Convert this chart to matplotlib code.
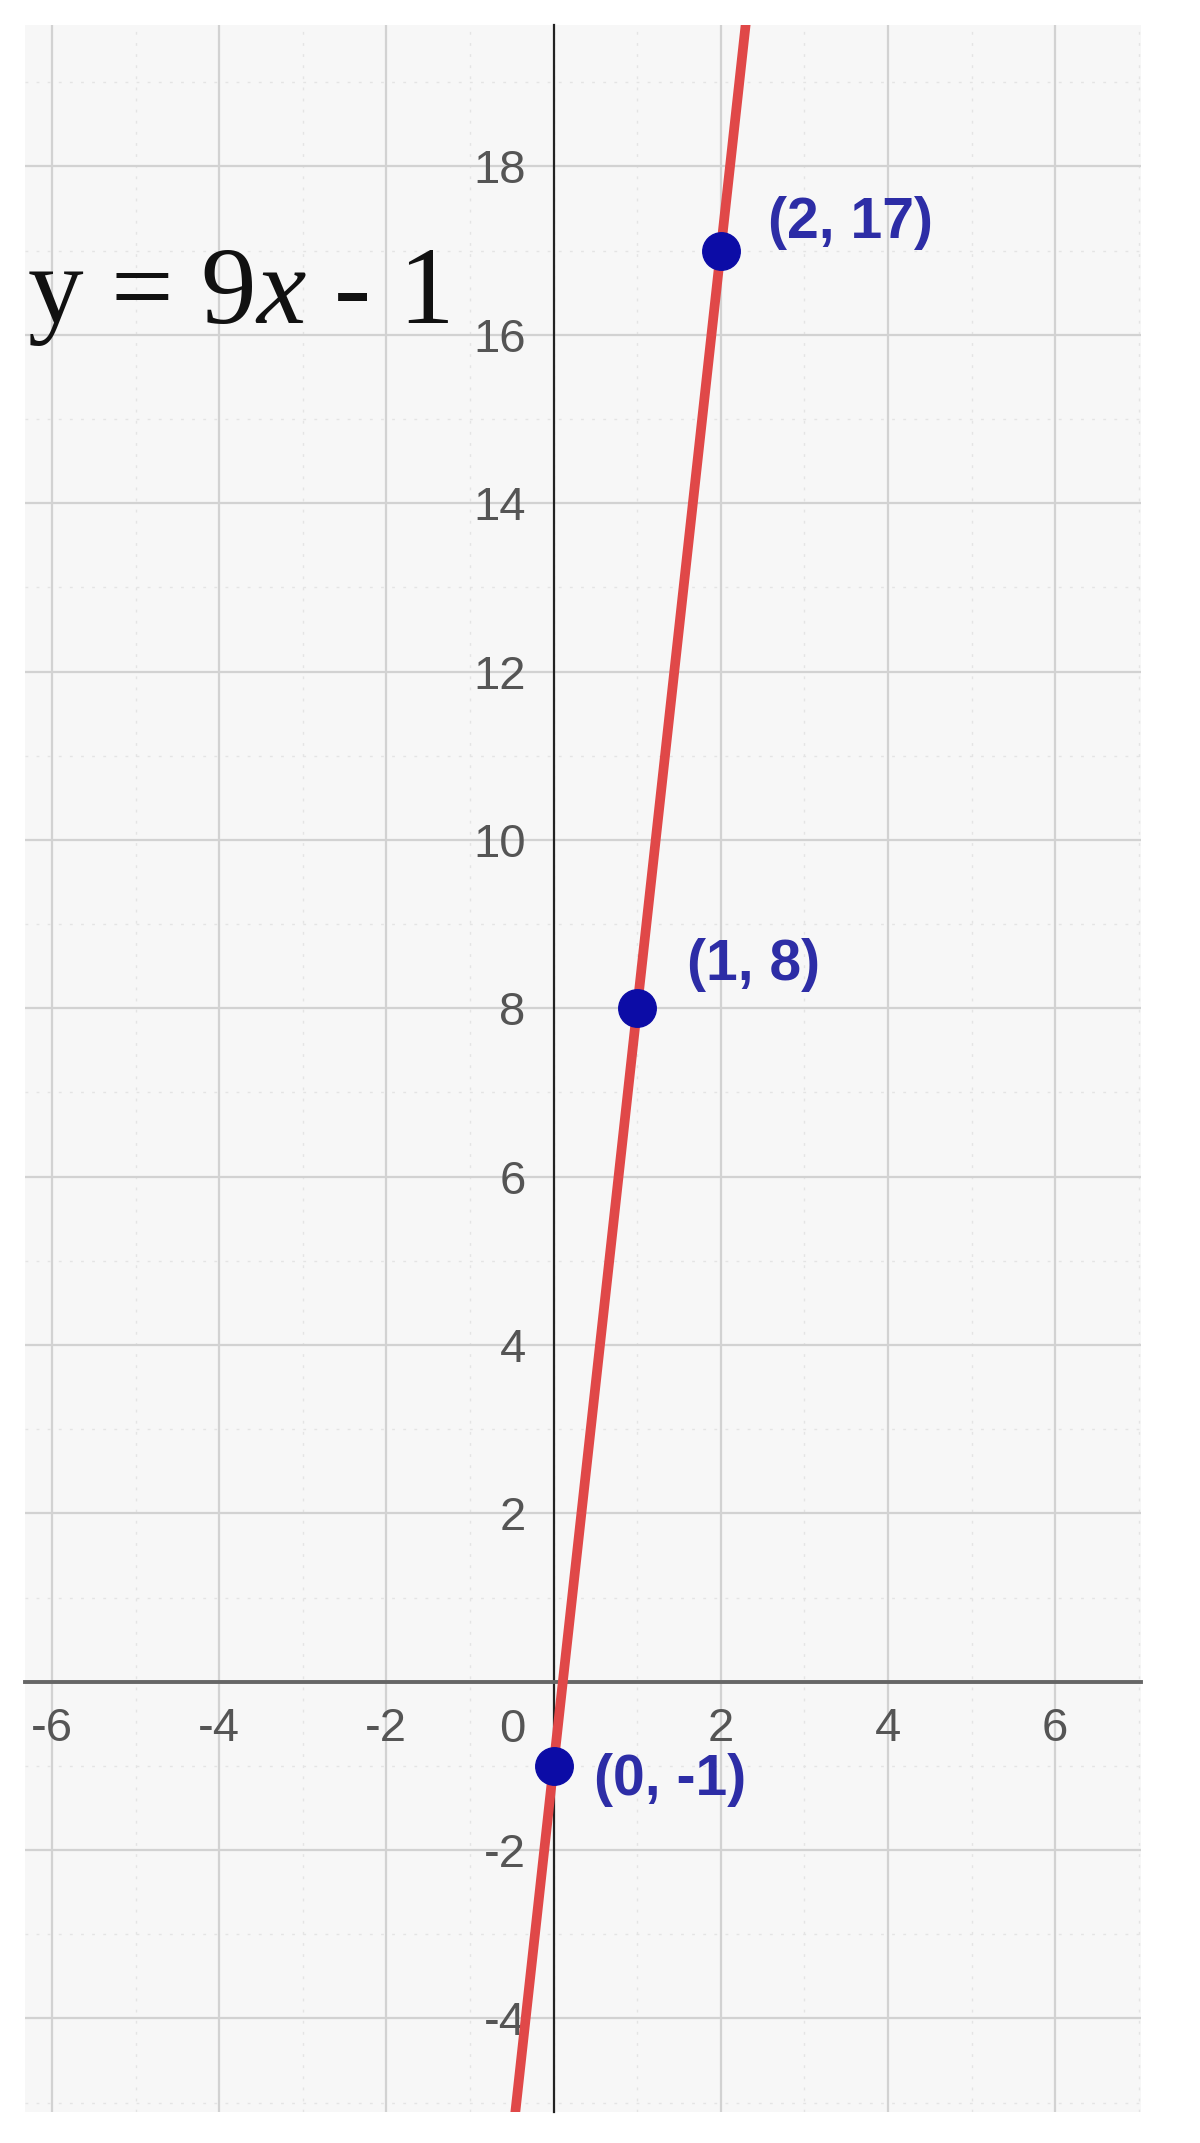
import numpy as np
import matplotlib
matplotlib.use("Agg")
import matplotlib.pyplot as plt
from matplotlib.ticker import MultipleLocator

plt.rcParams['font.family'] = ['Liberation Sans', 'DejaVu Sans']
plt.rcParams['axes.unicode_minus'] = False
plt.rcParams['mathtext.fontset'] = 'custom'
plt.rcParams['mathtext.rm'] = 'Liberation Serif'
plt.rcParams['mathtext.it'] = 'Liberation Serif:italic'

# line y = 9x - 1
slope = 9
intercept = -1

# marked points
pts_x = [0, 1, 2]
pts_y = [-1, 8, 17]
pts_labels = ['(0, -1)', '(1, 8)', '(2, 17)']
label_offsets = [(29, -10), (36, 31), (34, 20)]

xticks = [-6, -4, -2, 2, 4, 6]
yticks = [-4, -2, 2, 4, 6, 8, 10, 12, 14, 16, 18]

fig = plt.figure(figsize=(12, 21.43), dpi=100)
ax = fig.add_axes([0.021, 0.0145, 0.930, 0.9738])
ax.set_facecolor('#f7f7f7')
ax.set_xlim(-6.32, 7.03)
ax.set_ylim(-5.11, 19.68)

# axes through the origin
for s in ['top', 'right']:
    ax.spines[s].set_visible(False)
ax.spines['left'].set_position(('data', 0))
ax.spines['bottom'].set_position(('data', 0))
ax.spines['left'].set_color('#222222')
ax.spines['left'].set_linewidth(1.6)
ax.spines['bottom'].set_color('#666666')
ax.spines['bottom'].set_linewidth(2.8)

ax.set_xticks(xticks)
ax.set_yticks(yticks)
ax.xaxis.set_minor_locator(MultipleLocator(1))
ax.yaxis.set_minor_locator(MultipleLocator(1))
ax.tick_params(which='both', length=0, labelsize=34, labelcolor='#555555')
ax.tick_params(axis='x', pad=18)
ax.tick_params(axis='y', pad=20)
ax.grid(which='major', color='#d2d2d2', linewidth=1.6)
ax.grid(which='minor', color='#e4e4e4', linewidth=1.0, linestyle=(0, (2, 6)))
ax.annotate('0', (0, 0), xytext=(-30, -35), textcoords='offset points',
            ha='center', va='center', fontsize=34, color='#555555')

# the line and points
ax.axline((0, intercept), slope=slope, color='#e04848', linewidth=7, zorder=3)
ax.plot(pts_x, pts_y, 'o', color='#0c0ca6', markersize=27, zorder=4)
for x, y, lab, off in zip(pts_x, pts_y, pts_labels, label_offsets):
    ax.annotate(lab, (x, y), xytext=off, textcoords='offset points',
                ha='left', va='center', fontsize=41, fontweight='bold',
                color='#2d2da6', zorder=5)

ax.text(-6.3, 16.14, 'y = 9$x$ - 1', fontsize=80, family='Liberation Serif',
        color='#111111', ha='left', va='baseline', zorder=5)

fig.savefig('out.png', dpi=100)
